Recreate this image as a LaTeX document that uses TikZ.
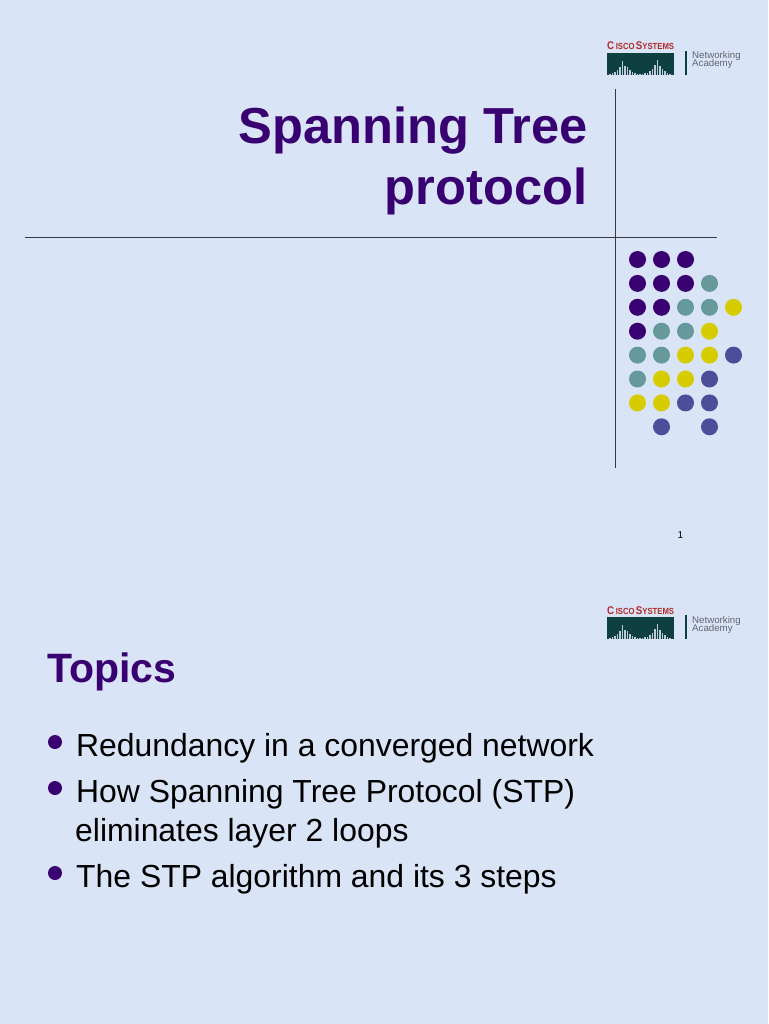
\documentclass[tikz,border=0pt]{standalone}
\usepackage{fontspec}
\setmainfont{Liberation Sans}
\usetikzlibrary{positioning}

\definecolor{slideBg}{HTML}{DAE4F7}
\definecolor{plum}{HTML}{380070}
\definecolor{teal}{HTML}{669999}
\definecolor{mustard}{HTML}{D6CC00}
\definecolor{indigo}{HTML}{4D4D99}
\definecolor{ciscoRed}{HTML}{B02A2A}
\definecolor{ciscoDark}{HTML}{0F4040}

\tikzset{
    heading/.style={font=\fontsize{#1}{#1}\selectfont\bfseries, text=plum, inner sep=0pt},
    body/.style={font=\fontsize{31.9}{31.9}\selectfont, text=black, inner sep=0pt, anchor=base west},
    bullet/.style={shape=circle, fill=plum, minimum size=14pt, inner sep=0pt},
    rule/.style={draw=black!75!slideBg, line width=0.8pt},
    dot/.style={shape=circle, minimum size=17pt, inner sep=0pt}
}

% cisco logo, #1 is the vertical shift
\newcommand{\academyLogo}[1]{
    \begin{scope}[yshift=-#1pt]
        \node[anchor=base west, inner sep=0pt, text=ciscoRed, font=\fontsize{9.7}{9.7}\selectfont\bfseries, yscale=1.15] (ciscoText#1) at (607,50) {C\,\fontsize{7.7}{7.7}\selectfont ISCO\,\fontsize{9.7}{9.7}\selectfont S\fontsize{7.7}{7.7}\selectfont YSTEMS};
        \fill[ciscoDark] (607,53) rectangle (674,75);
        \foreach \i/\h in {0/1,1/2,2/3,3/5,4/8,5/14,6/9,7/8,8/5,9/3,10/2,11/1,12/1,13/1,14/2,15/2,16/4,17/6,18/10,19/15,20/9,21/6,22/4,23/2,24/1} {
            \fill[slideBg!85!ciscoDark] (609+2.5*\i,75) rectangle ++(1.7,-\h);
        }
        \fill[ciscoDark] (684.5,51) rectangle (686.5,75);
        \node[anchor=base west, inner sep=0pt, text=black!55!slideBg, font=\fontsize{9.7}{9.7}\selectfont] (netText#1) at (692,59) {Networking};
        \node[anchor=base west, inner sep=0pt, text=black!55!slideBg, font=\fontsize{9.7}{9.7}\selectfont] (acadText#1) at (692,67) {Academy};
    \end{scope}
}

\begin{document}
\begin{tikzpicture}[x=1pt, y=-1pt]
    \useasboundingbox[fill=slideBg] (0,0) rectangle (768,1024);

    \academyLogo{0}
    \academyLogo{564}

    % upper slide
    \node[heading=50.6, anchor=base east] (title1) at (587.5,144) {Spanning Tree};
    \node[heading=50.6, anchor=base east] (title2) at (587.5,205) {protocol};
    \coordinate (ruleLeft) at (25,237);
    \coordinate (ruleRight) at (717,237);
    \coordinate (ruleTop) at (615,89);
    \coordinate (ruleBottom) at (615,468);
    \draw[rule] (ruleLeft) -- (ruleRight);
    \draw[rule] (ruleTop) -- (ruleBottom);

    \foreach \col/\row/\shade in {
        0/0/plum, 1/0/plum, 2/0/plum,
        0/1/plum, 1/1/plum, 2/1/plum, 3/1/teal,
        0/2/plum, 1/2/plum, 2/2/teal, 3/2/teal, 4/2/mustard,
        0/3/plum, 1/3/teal, 2/3/teal, 3/3/mustard,
        0/4/teal, 1/4/teal, 2/4/mustard, 3/4/mustard, 4/4/indigo,
        0/5/teal, 1/5/mustard, 2/5/mustard, 3/5/indigo,
        0/6/mustard, 1/6/mustard, 2/6/indigo, 3/6/indigo,
        1/7/indigo, 3/7/indigo} {
        \node[dot, fill=\shade] (d\col\row) at (637.5+24*\col,259.5+23.9*\row) {};
    }

    \node[inner sep=0pt, font=\fontsize{10}{10}\selectfont, anchor=base] (pageNum) at (680.5,538) {1};

    % lower slide
    \node[heading=41, anchor=base west] (topics) at (47,682) {Topics};

    \node[bullet] (b1) at (55,742) {};
    \node[bullet] (b2) at (55,788) {};
    \node[bullet] (b3) at (55,873) {};
    \node[body] (t1) at (76,756) {Redundancy in a converged network};
    \node[body] (t2) at (76,802) {How Spanning Tree Protocol (STP)};
    \node[body] (t2b) at (75,841) {eliminates layer 2 loops};
    \node[body] (t3) at (76,887) {The STP algorithm and its 3 steps};
\end{tikzpicture}
\end{document}
